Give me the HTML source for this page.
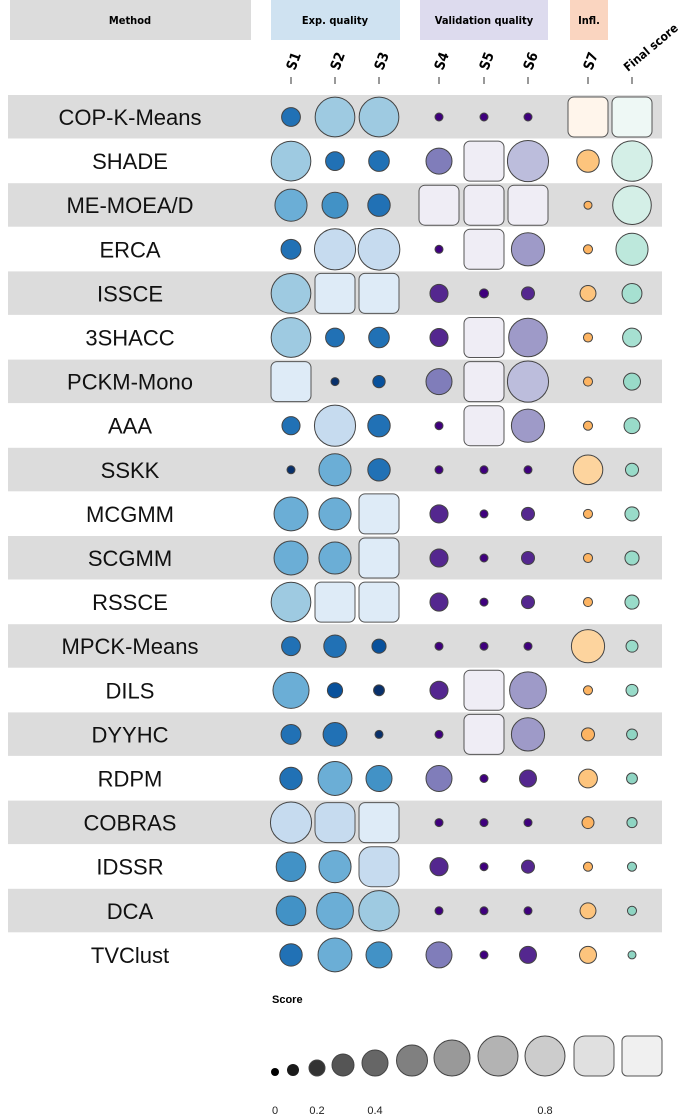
<!DOCTYPE html>
<html><head><meta charset="utf-8"><style>
html,body{margin:0;padding:0;background:#fff;}
svg{display:block;font-family:"Liberation Sans",sans-serif;}
</style></head><body>
<svg id="chart" width="685" height="1116" viewBox="0 0 685 1116">
<g>
<rect x="10" y="0" width="241" height="40" fill="#dcdcdc"/>
<text x="130" y="24" text-anchor="middle" font-size="11" font-weight="bold" font-family="DejaVu Sans Condensed, DejaVu Sans, sans-serif">Method</text>
<rect x="271" y="0" width="129" height="40" fill="#cfe2f1"/>
<text x="335" y="24" text-anchor="middle" font-size="11" font-weight="bold" font-family="DejaVu Sans Condensed, DejaVu Sans, sans-serif">Exp. quality</text>
<rect x="420" y="0" width="128" height="40" fill="#dddbee"/>
<text x="484" y="24" text-anchor="middle" font-size="11" font-weight="bold" font-family="DejaVu Sans Condensed, DejaVu Sans, sans-serif">Validation quality</text>
<rect x="570" y="0" width="38" height="40" fill="#fad5c0"/>
<text x="589" y="24" text-anchor="middle" font-size="11" font-weight="bold" font-family="DejaVu Sans Condensed, DejaVu Sans, sans-serif">Infl.</text>
</g>
<g id="bands"></g>
<g id="cols"></g>
<g id="marks"></g>
<g id="legend">
<text x="272" y="1003" font-size="11" font-weight="bold">Score</text>
</g>
</svg>
<script>
const methods=["COP-K-Means","SHADE","ME-MOEA/D","ERCA","ISSCE","3SHACC","PCKM-Mono","AAA","SSKK","MCGMM","SCGMM","RSSCE","MPCK-Means","DILS","DYYHC","RDPM","COBRAS","IDSSR","DCA","TVClust"];
const columns=["S1","S2","S3","S4","S5","S6","S7","Final score"];
const s1=[.3,.88,.67,.33,.88,.88,1,.28,0,.72,.72,.88,.3,.78,.33,.4,.92,.6,.6,.4];
const s2=[.88,.3,.5,.92,1,.3,0,.92,.67,.67,.67,1,.4,.2,.44,.72,.96,.67,.8,.72];
const s3=[.88,.35,.4,.935,1,.35,.12,.4,.4,1,1,1,.17,.08,0,.5,1,.96,.9,.5];
const s4=[0,.5,1,0,.28,.28,.5,0,0,.28,.28,.28,0,.28,0,.5,0,.28,0,.5];
const s5=[0,1,1,1,.03,1,1,1,0,0,0,0,0,1,1,0,0,0,0,0];
const s6=[0,.92,1,.7,.14,.85,.92,.7,0,.14,.14,.14,0,.8,.7,.25,0,.14,0,.25];
const s7=[1,.4,0,.03,.22,.03,.03,.03,.6,.03,.03,.03,.7,.03,.14,.3,.11,.03,.22,.25];
const sFinal=[1,.9,.85,.67,.33,.3,.25,.22,.14,.17,.17,.17,.11,.11,.08,.08,.06,.03,.03,0];
const values=[s1,s2,s3,s4,s5,s6,s7,sFinal];
const legendValues=[0,.1,.2,.3,.4,.5,.6,.7,.8,.9,1];
const legendTicks=["0","0.2","0.4","0.8"];
const legendTickIdx=[0,2,4,8];

const NS="http://www.w3.org/2000/svg";
const colX=[291,335,379,439,484,528,588,632];
const rowY=i=>117+i*44.1;
const rad=v=>Math.min(22,4+18*v);
const blue=[[0,'#08306b'],[.1,'#08519c'],[.25,'#2171b5'],[.45,'#4292c6'],[.63,'#6baed6'],[.84,'#9ecae1'],[.91,'#c6dbef'],[.98,'#deebf7']];
const purple=[[0,'#3f007d'],[.1,'#54278f'],[.4,'#807dba'],[.65,'#9e9ac8'],[.88,'#bcbddc'],[.98,'#efedf5']];
const orange=[[0,'#fdb462'],[.15,'#fdc47d'],[.55,'#fdd49e'],[.98,'#fff5eb']];
const teal=[[0,'#8fd5c3'],[.1,'#99dbc9'],[.3,'#a6e0d1'],[.6,'#bde8dc'],[.8,'#d4efe7'],[.98,'#eef8f5']];
const pal=[blue,blue,blue,purple,purple,purple,orange,teal];
function pick(st,v){let c=st[0][1];for(const s of st){if(v>=s[0])c=s[1];}return c;}
function mk(tag,attrs,parent){const e=document.createElementNS(NS,tag);for(const k in attrs)e.setAttribute(k,attrs[k]);parent.appendChild(e);return e;}
function mark(parent,cx,cy,v,fill){
  let e;
  if(v>=0.94){
    const s=40;
    e=mk('rect',{x:cx-s/2,y:cy-s/2,width:s,height:s,rx:v>=0.98?6:12,fill:fill,stroke:'#555','stroke-width':1},parent);
  } else {
    e=mk('circle',{cx:cx,cy:cy,r:rad(v),fill:fill,stroke:'#444','stroke-width':1},parent);
  }
  return e;
}
const bands=document.getElementById('bands');
methods.forEach((m,i)=>{
  const y=rowY(i);
  if(i%2===0){
    const b=mk('rect',{x:8,y:y-22,width:654,height:43.5,fill:'#dcdcdc'},bands);
    
    
  }
  const t=mk('text',{x:130,y:y+8,'text-anchor':'middle','font-size':22,fill:'#111'},bands);
  t.textContent=m;
  
  
});
const cols=document.getElementById('cols');
columns.forEach((c,j)=>{
  const x=colX[j];
  const tk=mk('line',{x1:x,x2:x,y1:77,y2:84,stroke:'#333','stroke-width':1},cols);
  
  
  const tx=j===7?x-4:x+4, ty=j===7?72:71;
  const t=mk('text',{x:tx,y:ty,'font-size':j===7?12:14,'font-weight':'bold','font-family':'DejaVu Sans Condensed, DejaVu Sans, sans-serif',transform:`rotate(${j===7?-40:-70} ${tx} ${ty})`},cols);
  t.textContent=c;
  
  
});
const marks=document.getElementById('marks');
values.forEach((arr,j)=>{
  arr.forEach((v,i)=>{
    const e=mark(marks,colX[j],rowY(i),v,pick(pal[j],v));
    
    
  });
});
const legend=document.getElementById('legend');
const lgX=[275,293,317,343,375,412,452,498,545,594,642];
const lgR=[4,6,8,11,13,15.5,18,20,20,20,20];
const grays=['#000','#1a1a1a','#333','#555','#666','#808080','#999','#b3b3b3','#cccccc','#e0e0e0','#f0f0f0'];
legendValues.forEach((v,k)=>{
  const cy=1076-lgR[k];
  let e;
  if(v>=0.9){
    e=mk('rect',{x:lgX[k]-20,y:1036,width:40,height:40,rx:v>=1?5:11,fill:grays[k],stroke:'#555','stroke-width':1},legend);
  } else {
    e=mk('circle',{cx:lgX[k],cy:cy,r:lgR[k],fill:grays[k],stroke:'#444','stroke-width':k<2?0:1},legend);
  }
  
  
});
legendTicks.forEach((t,k)=>{
  const e=mk('text',{x:lgX[legendTickIdx[k]],y:1114,'text-anchor':'middle','font-size':11,fill:'#222'},legend);
  e.textContent=t;
  
  
});
</script>
</body></html>
